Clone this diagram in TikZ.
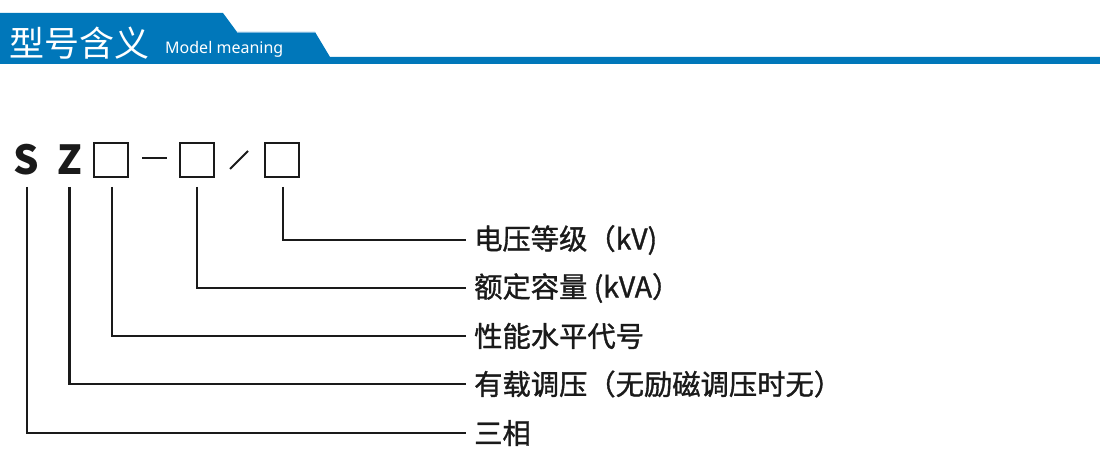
\documentclass[tikz,border=0pt]{standalone}
\usepackage{fontspec}
\setmainfont{Noto Sans CJK SC}
\newfontfamily\cjkfont{Noto Sans CJK SC}
\newfontfamily\cjkmed[FakeBold=1.2]{Noto Sans CJK SC}
\newfontfamily\latfont{Noto Sans}
\definecolor{hdrblue}{RGB}{0,119,186}
\definecolor{hdrlight}{RGB}{120,180,220}
\definecolor{txt}{RGB}{26,26,26}
\begin{document}
\begin{tikzpicture}[x=1bp,y=-1bp,
  lbl/.style={anchor=west,inner xsep=8bp,inner ysep=0pt,text=txt,font=\cjkmed\fontsize{28.3bp}{30bp}\selectfont},
  letter/.style={inner sep=0pt,text=txt,font=\cjkfont\bfseries\fontsize{40bp}{44bp}\selectfont},
  slot/.style={draw=txt,line width=2.2bp,minimum width=34bp,minimum height=34bp,inner sep=0pt},
  conn/.style={draw=txt,line width=2.2bp}]
\useasboundingbox (0,0) rectangle (1100,467);
% header
\fill[hdrblue] (0,13) -- (223,13) -- (237,32) -- (315,32) -- (330,57) -- (1100,57) -- (1100,64) -- (0,64) -- cycle;
\draw[hdrlight,line width=0.8bp] (237,32.4) -- (315,32.4);
\node[anchor=west,inner sep=0pt,text=white,font=\cjkfont\fontsize{35bp}{38bp}\selectfont] (title) at (9,43) {型号含义};
\node[anchor=base west,inner sep=0pt,text=white,font=\latfont\fontsize{16bp}{18bp}\selectfont] (sub) at (165,54) {Model meaning};
% model code
\node[letter] (S) at (26,160) {S};
\node[letter] (Z) at (70,160) {Z};
\node[slot] (b1) at (111,160) {};
\node[slot] (b2) at (197,160) {};
\node[slot] (b3) at (282,160) {};
\coordinate (d1) at (142,158); \coordinate (d2) at (167,158);
\draw[txt,line width=1.8bp] (d1) -- (d2);
\coordinate (s1) at (230,169); \coordinate (s2) at (248,151);
\draw[txt,line width=1.8bp] (s1) -- (s2);
% top coordinates of connectors
\coordinate (tS) at (27,187);
\coordinate (tZ) at (69.5,187);
\coordinate (t1) at (112,187);
\coordinate (t2) at (197,187);
\coordinate (t3) at (283,187);
% labels
\node[lbl] (l1) at (466,240) {电压等级（kV)};
\node[lbl] (l2) at (466,288) {额定容量 (kVA）};
\node[lbl] (l3) at (466,336) {性能水平代号};
\node[lbl] (l4) at (466,384) {有载调压（无励磁调压时无）};
\node[lbl] (l5) at (466,433) {三相};
% connectors
\draw[conn] (t3) |- (l1.west);
\draw[conn] (t2) |- (l2.west);
\draw[conn] (t1) |- (l3.west);
\draw[conn] (tZ) |- (l4.west);
\draw[conn] (tS) |- (l5.west);
\end{tikzpicture}
\end{document}
